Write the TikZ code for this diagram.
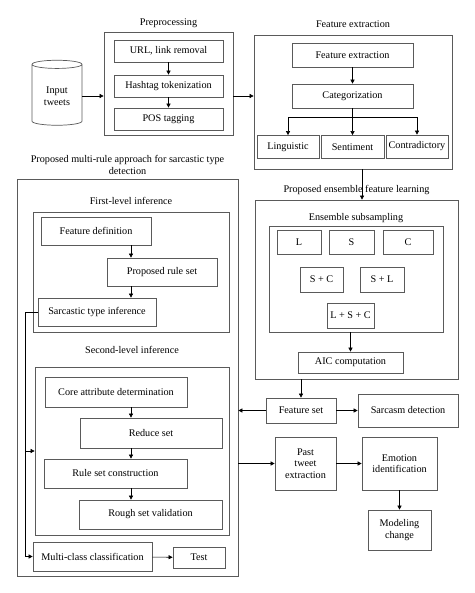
\documentclass[tikz,border=0pt]{standalone}
\usepackage{fontspec}
\setmainfont{Liberation Serif}
\usetikzlibrary{shapes.geometric,arrows.meta,positioning,calc}
\definecolor{sktgray}{HTML}{5A5A5A}

\begin{document}
\begin{tikzpicture}[x=1pt, y=-1pt,
    stepbox/.style={draw=sktgray, line width=0.7pt, inner sep=1pt, align=center, font=\fontsize{10.2}{11.5}\selectfont},
    groupbox/.style={draw=sktgray, line width=0.7pt, inner sep=0pt},
    caption/.style={inner sep=1pt, align=center, font=\fontsize{10.2}{11.5}\selectfont},
    arrow/.style={-{Triangle[length=4pt, width=4pt]}, line width=0.6pt},
    link/.style={line width=0.6pt},
]
    \useasboundingbox (0,0) rectangle (474,593);

    % preprocessing
    \node[cylinder, shape border rotate=90, aspect=0.25, draw=sktgray, line width=0.7pt, minimum width=50, minimum height=65, align=center, font=\fontsize{10.2}{11.5}\selectfont] (tweets) at (57,96) {Input\\tweets};
    \node[groupbox, minimum width=129, minimum height=103] (pre) at (168.5,83.5) {};
    \node[caption, above=3pt of pre] (pretitle) {Preprocessing};
    \node[stepbox, minimum width=109, minimum height=22] (url) at (168.5,51) {URL, link removal};
    \node[stepbox, minimum width=109, minimum height=22] (hash) at (168.5,86) {Hashtag tokenization};
    \node[stepbox, minimum width=109, minimum height=22] (pos) at (168.5,119) {POS tagging};

    % feature extraction
    \node[groupbox, minimum width=198, minimum height=134] (fe) at (353,102) {};
    \node[caption, above=6pt of fe] (fetitle) {Feature extraction};
    \node[stepbox, minimum width=121, minimum height=24] (fext) at (352.5,55) {Feature extraction};
    \node[stepbox, minimum width=121, minimum height=24] (cat) at (352.5,96) {Categorization};
    \node[stepbox, minimum width=62, minimum height=23] (ling) at (288,147) {Linguistic};
    \node[stepbox, minimum width=63, minimum height=23] (sent) at (352.5,147) {Sentiment};
    \node[stepbox, minimum width=62, minimum height=23] (contr) at (417,146.5) {Contradictory};

    % ensemble feature learning
    \node[groupbox, minimum width=203, minimum height=179] (ens) at (356.5,289.5) {};
    \node[caption, above=4pt of ens] (enstitle) {Proposed ensemble feature learning};
    \node[groupbox, minimum width=174, minimum height=106] (sub) at (356,279) {};
    \node[caption, above=2pt of sub] (subtitle) {Ensemble subsampling};
    \node[stepbox, minimum width=44, minimum height=24] (l) at (299,242) {L};
    \node[stepbox, minimum width=45, minimum height=24] (s) at (351.5,242) {S};
    \node[stepbox, minimum width=50, minimum height=24] (c) at (408,242) {C};
    \node[stepbox, minimum width=43, minimum height=25] (sc) at (321.5,279.5) {S + C};
    \node[stepbox, minimum width=44, minimum height=25] (sl) at (382,279.5) {S + L};
    \node[stepbox, minimum width=47, minimum height=25] (lsc) at (350.5,315.5) {L + S + C};
    \node[stepbox, minimum width=105, minimum height=21] (aic) at (350.5,362.5) {AIC computation};

    % outputs
    \node[stepbox, minimum width=70, minimum height=25] (fset) at (301,410.5) {Feature set};
    \node[stepbox, minimum width=100, minimum height=33] (sarc) at (408,410.5) {Sarcasm detection};
    \node[stepbox, minimum width=61, minimum height=53] (past) at (305.5,463.5) {Past\\tweet\\extraction};
    \node[stepbox, minimum width=75, minimum height=53] (emo) at (399.5,463.5) {Emotion\\identification};
    \node[stepbox, minimum width=63, minimum height=40] (model) at (399.5,530) {Modeling\\change};

    % multi-rule approach
    \node[groupbox, minimum width=221, minimum height=397] (multi) at (127.5,377.5) {};
    \node[caption, above=3pt of multi] (multititle) {Proposed multi-rule approach for sarcastic type\\detection};
    \node[groupbox, minimum width=196, minimum height=120] (first) at (131,272) {};
    \node[caption, above=6pt of first] (firsttitle) {First-level inference};
    \node[stepbox, minimum width=110, minimum height=28] (fdef) at (96,231) {Feature definition};
    \node[stepbox, minimum width=110, minimum height=28] (prs) at (162,272) {Proposed rule set};
    \node[stepbox, minimum width=118, minimum height=28] (sti) at (97,312) {Sarcastic type inference};
    \node[groupbox, minimum width=194, minimum height=168] (second) at (132,451) {};
    \node[caption, above=12pt of second] (secondtitle) {Second-level inference};
    \node[stepbox, minimum width=142, minimum height=30] (core) at (116,392) {Core attribute determination};
    \node[stepbox, minimum width=142, minimum height=30] (red) at (151,433) {Reduce set};
    \node[stepbox, minimum width=143, minimum height=29] (rsc) at (115.5,473.5) {Rule set construction};
    \node[stepbox, minimum width=143, minimum height=29] (rsv) at (150.5,514.5) {Rough set validation};
    \node[stepbox, minimum width=119, minimum height=29] (mcc) at (92.5,556.5) {Multi-class classification};
    \node[stepbox, minimum width=52, minimum height=21] (test) at (199,557.5) {Test};

    \coordinate (midx) at (131,0);
    \coordinate (rail) at (25,0);

    \draw[arrow] (tweets.east) -- (tweets.east -| pre.west);
    \draw[arrow] (url) -- (hash);
    \draw[arrow] (hash) -- (pos);
    \draw[arrow] (cat.west -| pre.east) -- (cat.west -| fe.west);

    \draw[arrow] (fext) -- (cat);
    \draw[link] (cat.south) -- ++(0,9) coordinate (fork);
    \draw[link] (fork -| ling.north) -- (fork -| contr.north);
    \draw[arrow] (fork -| ling.north) -- (ling.north);
    \draw[arrow] (fork) -- (sent.north);
    \draw[arrow] (fork -| contr.north) -- (contr.north);
    \draw[arrow] ([xshift=9pt]fe.south) -- ([xshift=9pt]fe.south |- ens.north);

    \draw[arrow] (sub.south -| aic.north) -- (aic.north);
    \draw[arrow] (ens.south -| fset.north) -- (fset.north);
    \draw[arrow] (fset) -- (sarc);
    \draw[arrow] (fset.west) -- (fset.west -| multi.east);
    \draw[arrow] (past.west -| multi.east) -- (past.west);
    \draw[arrow] (past) -- (emo);
    \draw[arrow] (emo) -- (model);

    \draw[arrow] (fdef.south -| midx) -- (prs.north -| midx);
    \draw[arrow] (prs.south -| midx) -- (sti.north -| midx);
    \draw[arrow] (core.south -| midx) -- (red.north -| midx);
    \draw[arrow] (red.south -| midx) -- (rsc.north -| midx);
    \draw[arrow] (rsc.south -| midx) -- (rsv.north -| midx);
    \draw[arrow] (sti.west) -| (rail |- mcc.west) -- (mcc.west);
    \draw[arrow] (rail |- second.west) -- (second.west);
    \draw[arrow] (mcc) -- (test);
\end{tikzpicture}
\end{document}
